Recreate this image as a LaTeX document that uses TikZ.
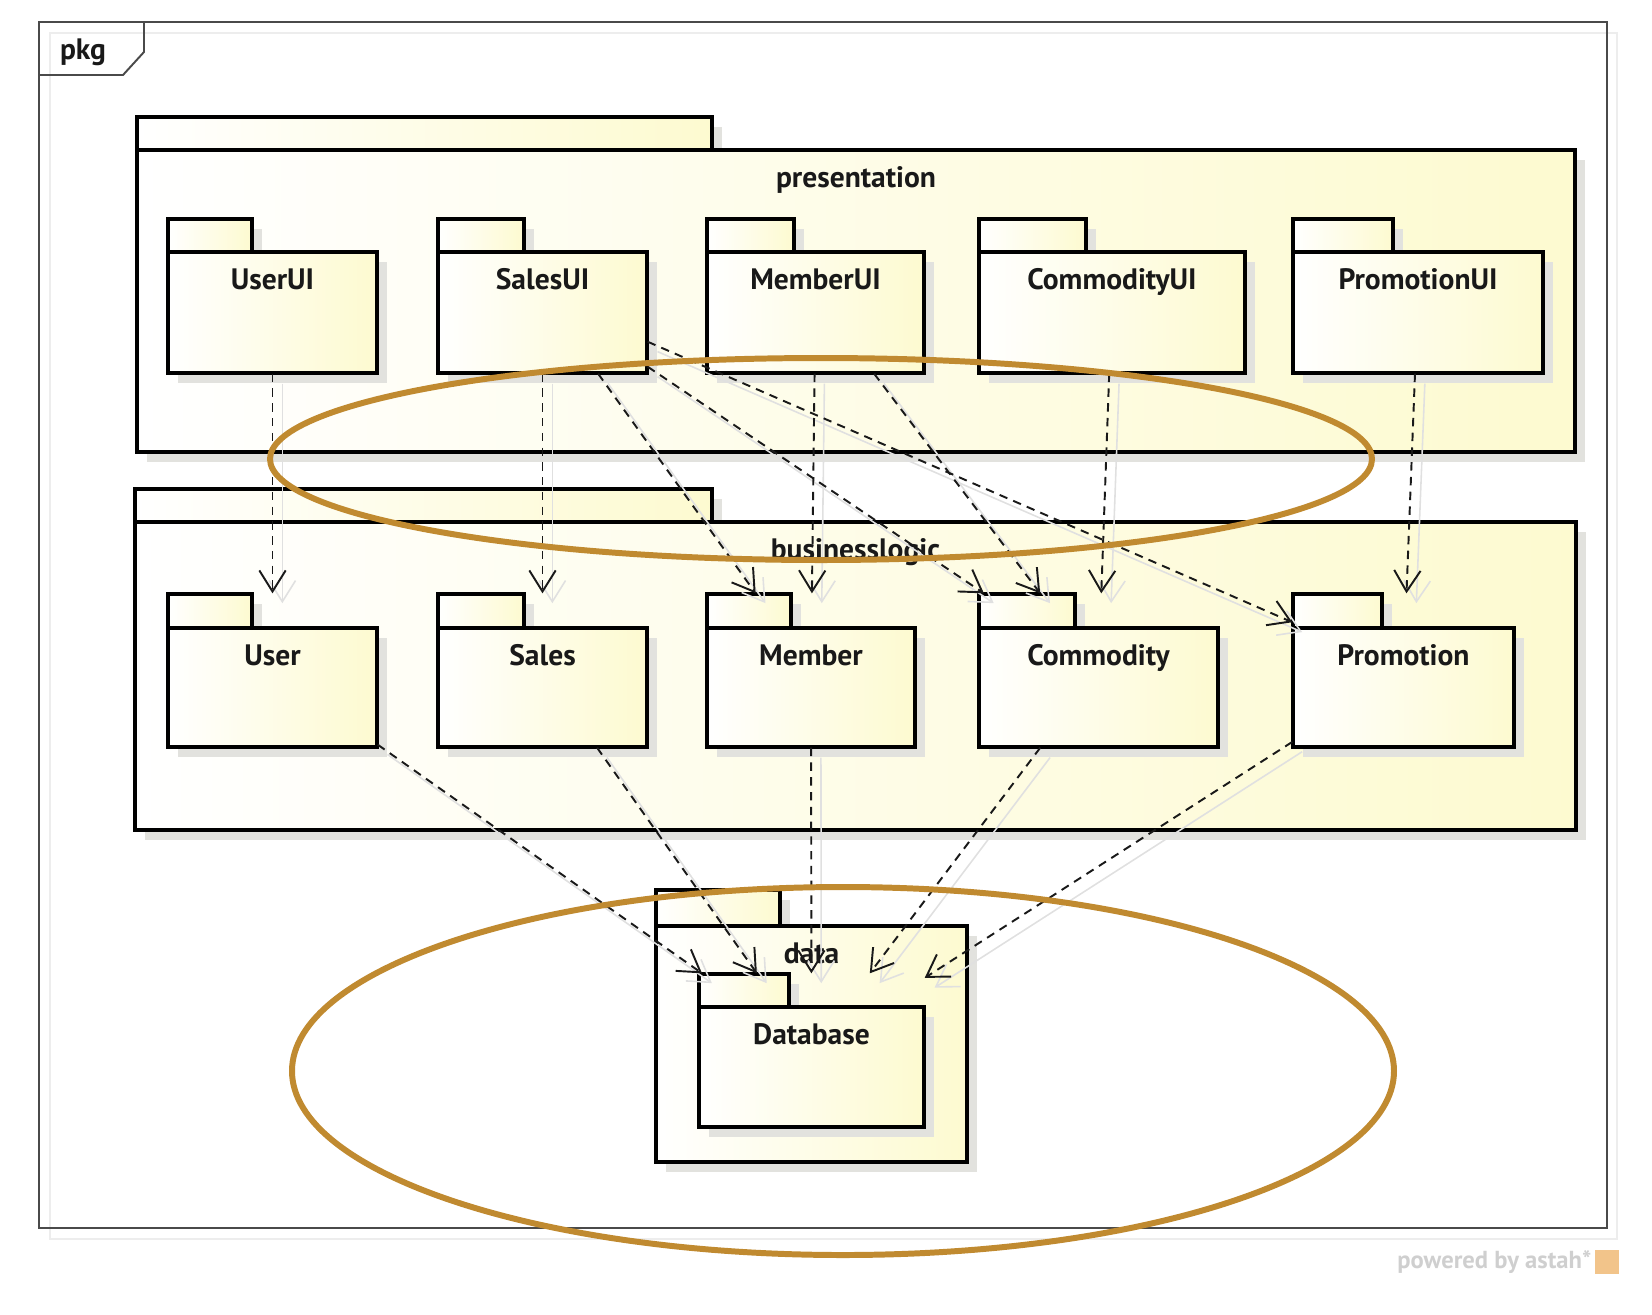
\documentclass[tikz,border=0pt]{standalone}
\usepackage{fontspec}
\setmainfont{PT Sans}
\usepackage{xcolor}
\usepackage{tikz}
\usetikzlibrary{arrows.meta, fit, calc}
\definecolor{astahyellow}{HTML}{FDFAD0}
\definecolor{astahshadow}{HTML}{E2E2DE}
\definecolor{astahframe}{HTML}{4A4A4A}
\definecolor{markgold}{HTML}{C08A30}
\definecolor{poweredgray}{HTML}{CFCFCF}
\definecolor{logoorange}{HTML}{F2C48A}

% #1 name, #2 label, #3 left, #4 tab top, #5 tab right, #6 body top, #7 right, #8 bottom
\newcommand{\umlpkg}[8]{%
  \fill[pkgshadow] (#3+10,#4+10) rectangle (#5+10,#6+10);
  \fill[pkgshadow] (#3+10,#6+10) rectangle (#7+10,#8+10);
  \draw[pkgline] (#3,#4) rectangle (#5,#6);
  \draw[pkgline] (#3,#6) rectangle (#7,#8);
  \node[pkgarea, fit={(#3,#4) (#7,#8)}] (#1) {};
  \node[pkglabel, anchor=base] (#1-lbl) at ({(#3+#7)/2},#6+37) {#2};
}

\begin{document}
\begin{tikzpicture}[
    x=0.1mm, y=-0.1mm,
    pkgshadow/.style={fill=astahshadow},
    pkgline/.style={draw=black, line width=0.95pt,
                    left color=white, right color=astahyellow},
    pkgarea/.style={rectangle, inner sep=0pt, draw=none},
    pkglabel/.style={font=\fontsize{8.4}{10}\selectfont\bfseries,
                     text=black!90, inner sep=0pt},
    dep/.style={draw=black!90, line width=0.55pt,
                dash pattern=on 2.4pt off 1.8pt,
                -{Straight Barb[length=6pt,width=7.5pt]}},
    depshadow/.style={draw=black!12, line width=0.45pt,
                      -{Straight Barb[length=6pt,width=7.5pt]}},
    frameline/.style={draw=astahframe, line width=0.55pt},
    frameshadow/.style={draw=black!7, line width=0.6pt},
    highlight/.style={draw=markgold, line width=1.7pt}
  ]
    \useasboundingbox (0,0) rectangle (1652,1314);
    % Diagram frame
    \draw[frameshadow] (50,33) rectangle (1617,1239);
    \draw[frameline] (39,22) rectangle (1607,1228);
    \draw[frameline] (39,75) -- (123,75) -- (144,52) -- (144,22);
    \node[pkglabel, anchor=base] (pkg) at (83,59) {pkg};
    % Layers
    \umlpkg{presentation}{presentation}{137}{117}{712}{150}{1575}{452}
    \umlpkg{businesslogic}{businesslogic}{135}{489}{712}{522}{1576}{830}
    \umlpkg{data}{data}{656}{890}{780}{926}{967}{1162}
    % Presentation packages
    \umlpkg{UserUI}{UserUI}{168}{219}{252}{252}{377}{373}
    \umlpkg{SalesUI}{SalesUI}{438}{219}{524}{252}{647}{373}
    \umlpkg{MemberUI}{MemberUI}{707}{219}{794}{252}{924}{373}
    \umlpkg{CommodityUI}{CommodityUI}{979}{219}{1086}{252}{1245}{373}
    \umlpkg{PromotionUI}{PromotionUI}{1293}{219}{1393}{252}{1543}{373}
    % Business logic packages
    \umlpkg{User}{User}{168}{594}{252}{628}{377}{747}
    \umlpkg{Sales}{Sales}{438}{594}{524}{628}{647}{747}
    \umlpkg{Member}{Member}{707}{594}{791}{628}{915}{747}
    \umlpkg{Commodity}{Commodity}{979}{594}{1075}{628}{1218}{747}
    \umlpkg{Promotion}{Promotion}{1293}{594}{1382}{628}{1514}{747}
    % Data package
    \umlpkg{Database}{Database}{699}{974}{789}{1007}{924}{1127}
    % Dependencies: shadows first, then the dashed lines
    \begin{scope}[transform canvas={xshift=2.8pt, yshift=-2.8pt}]
      \foreach \src/\dst in {UserUI/User, SalesUI/Sales, SalesUI/Member,
          SalesUI/Commodity, SalesUI/Promotion, MemberUI/Member,
          MemberUI/Commodity, CommodityUI/Commodity, PromotionUI/Promotion,
          User/Database, Sales/Database, Member/Database,
          Commodity/Database, Promotion/Database}
        \draw[depshadow] (\src) -- (\dst);
    \end{scope}
    \foreach \src/\dst in {UserUI/User, SalesUI/Sales, SalesUI/Member,
        SalesUI/Commodity, SalesUI/Promotion, MemberUI/Member,
        MemberUI/Commodity, CommodityUI/Commodity, PromotionUI/Promotion,
        User/Database, Sales/Database, Member/Database,
        Commodity/Database, Promotion/Database}
      \draw[dep] (\src) -- (\dst);
    % Hand-drawn highlight ellipses
    \draw[highlight] (821,459) ellipse [x radius=551, y radius=101];
    \draw[highlight] (843,1071) ellipse [x radius=551, y radius=184];
    % Footer
    \node[font=\fontsize{7}{8}\selectfont\bfseries, text=poweredgray,
          anchor=east, inner sep=0pt] (powered) at (1592,1262) {powered by astah*};
    \node[fill=logoorange, minimum size=7pt, inner sep=0pt] (logo) at (1607,1262) {};
\end{tikzpicture}
\end{document}
